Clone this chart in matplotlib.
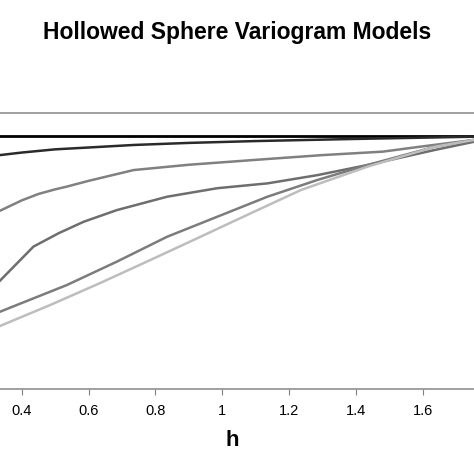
import matplotlib
matplotlib.use("Agg")
import matplotlib.pyplot as plt

h_flat = [0.335, 1.753]
v_flat = [1.101, 1.101]
h2 = [0.335, 0.4, 0.5, 0.6, 0.735, 0.9, 1.1, 1.39, 1.753]
v2 = [1.017, 1.028, 1.042, 1.050, 1.061, 1.070, 1.078, 1.087, 1.097]
h3 = [0.335, 0.4, 0.45, 0.5, 0.535, 0.6, 0.735, 0.9, 1.135, 1.3, 1.48, 1.6, 1.753]
v3 = [0.775, 0.820, 0.848, 0.868, 0.880, 0.905, 0.952, 0.975, 1.000, 1.017, 1.032, 1.055, 1.083]
h4 = [0.335, 0.435, 0.51, 0.585, 0.685, 0.835, 0.985, 1.135, 1.285, 1.435, 1.635, 1.753]
v4 = [0.471, 0.619, 0.677, 0.727, 0.778, 0.836, 0.873, 0.894, 0.930, 0.974, 1.039, 1.075]
h5 = [0.335, 0.435, 0.535, 0.685, 0.835, 0.985, 1.135, 1.285, 1.435, 1.635, 1.753]
v5 = [0.336, 0.394, 0.452, 0.554, 0.662, 0.749, 0.836, 0.909, 0.974, 1.053, 1.083]
h6 = [0.335, 0.485, 0.635, 0.785, 0.935, 1.085, 1.235, 1.435, 1.535, 1.635, 1.753]
v6 = [0.274, 0.365, 0.461, 0.561, 0.662, 0.764, 0.865, 0.967, 1.010, 1.053, 1.083]
xticks = [0.4, 0.6, 0.8, 1.0, 1.2, 1.4, 1.6]
xticklabels = ["0.4", "0.6", "0.8", "1", "1.2", "1.4", "1.6"]

fig = plt.figure(figsize=(4.74, 4.74), dpi=100)
ax = fig.add_axes([0, 1 - 389 / 474, 1, (389 - 113) / 474])
series = [(h_flat, v_flat, "#000000", 2.0), (h2, v2, "#2a2a2a", 1.8),
          (h3, v3, "#808080", 1.8), (h4, v4, "#6e6e6e", 1.8),
          (h5, v5, "#7c7c7c", 1.8), (h6, v6, "#bdbdbd", 1.8)]
for hs, vs, c, lw in series:
    ax.plot(hs, vs, color=c, lw=lw)
ax.set_xlim(0.335, 1.753)
ax.set_ylim(0, 1.2)
ax.set_yticks([])
ax.set_xticks(xticks)
ax.set_xticklabels(xticklabels, fontsize=10.5, family="Liberation Sans")
ax.tick_params(axis="x", direction="out", length=4, color="#808080", pad=7)
for s in ["left", "right"]:
    ax.spines[s].set_visible(False)
for s in ["top", "bottom"]:
    ax.spines[s].set_color("#909090")
    ax.spines[s].set_linewidth(1.2)
fig.text(0.5, 1 - 32 / 474, "Hollowed Sphere Variogram Models", ha="center", va="center",
         fontsize=16.5, fontweight="bold", family="Liberation Sans")
fig.text(0.49, 1 - 441 / 474, "h", ha="center", va="center", fontsize=16, fontweight="bold",
         family="Liberation Sans")
fig.savefig("out.png", dpi=100)
